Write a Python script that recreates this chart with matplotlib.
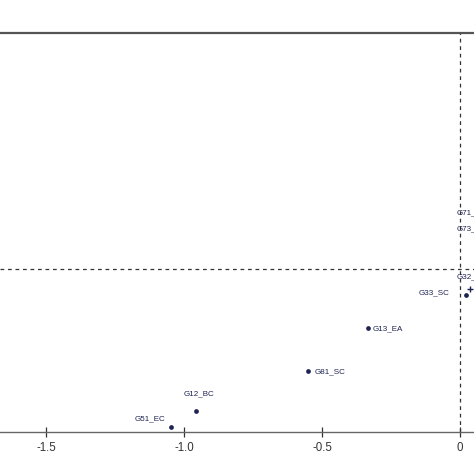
import matplotlib.pyplot as plt

# sample scores
names = ['G51_EC', 'G12_BC', 'G81_SC', 'G13_EA', 'G33_SC', 'G32_SC', 'G71_SC', 'G73_SC']
dim1 = [-1.048, -0.958, -0.550, -0.334, 0.022, 0.036, 0.065, 0.065]
dim2 = [-0.571, -0.513, -0.371, -0.215, -0.094, -0.071, 0.159, 0.101]
markers = ['o', 'o', 'o', 'o', 'o', '+', 'o', 'o']
xticks = [-1.5, -1.0, -0.5, 0]
xtick_labels = ['-1.5', '-1.0', '-0.5', '0']

# label placement (pixel offsets from the point) and alignment
label_style = {
    'G51_EC': ((-5, 8), 'right'),
    'G12_BC': ((3, 17), 'center'),
    'G81_SC': ((6, 0), 'left'),
    'G13_EA': ((5, 0), 'left'),
    'G33_SC': ((-17, 2), 'right'),
    'G32_SC': ((-13, 12), 'left'),
    'G71_SC': ((-21, 12), 'left'),
    'G73_SC': ((-21, 12), 'left'),
}

plt.rcParams['font.family'] = ['Liberation Sans', 'DejaVu Sans']
navy = '#1e2452'

fig = plt.figure(figsize=(4.74, 4.74), dpi=100)
ax = fig.add_axes([0, 42 / 474, 1, 399 / 474])

ax.set_xlim(-1.6667, 0.0507)
ax.set_ylim(-0.5906, 0.855)

ax.axhline(0, color='#333333', lw=0.9, ls=(0, (3, 3)), zorder=1)
ax.axvline(0, color='#333333', lw=0.9, ls=(0, (3, 3)), zorder=1)

for n, xv, yv, m in zip(names, dim1, dim2, markers):
    if m == '+':
        ax.plot(xv, yv, marker='+', ms=4, mew=1.0, color=navy, zorder=3)
    else:
        ax.plot(xv, yv, marker='o', ms=2.4, color=navy, zorder=3)
    off, ha = label_style[n]
    ax.annotate(n, (xv, yv), xytext=off, textcoords='offset pixels',
                ha=ha, va='center', fontsize=5.8, color=navy,
                annotation_clip=False)

for s in ['left', 'right']:
    ax.spines[s].set_visible(False)
ax.spines['top'].set_color('#555555')
ax.spines['top'].set_linewidth(1.6)
ax.spines['bottom'].set_color('#666666')
ax.spines['bottom'].set_linewidth(1.0)

ax.set_xticks(xticks)
ax.set_xticklabels(xtick_labels)
ax.tick_params(axis='x', direction='inout', length=6.5, width=0.9,
               color='#333333', labelsize=8.3, labelcolor='#333333', pad=4)
ax.set_yticks([])

fig.savefig('out.png', dpi=100)
